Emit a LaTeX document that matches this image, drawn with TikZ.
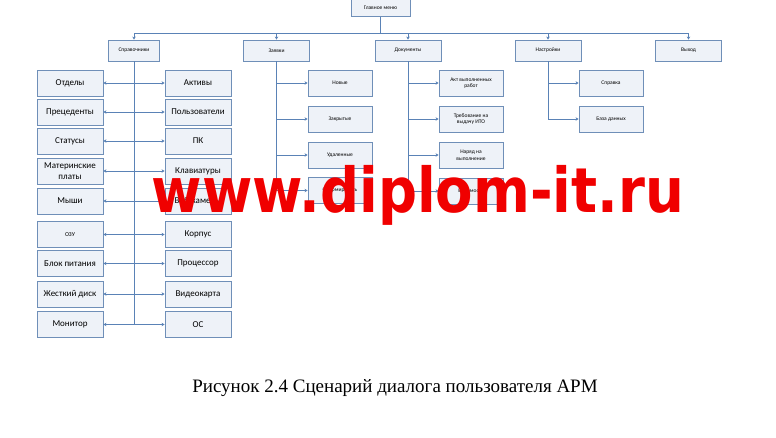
\documentclass[tikz,border=0pt]{standalone}
\usepackage{fontspec}
\usepackage{graphicx}
\setmainfont{Carlito}
\newfontfamily\capfont{Liberation Serif}
\newfontfamily\wmfont{DejaVu Sans}
\usetikzlibrary{arrows.meta}

\definecolor{boxline}{HTML}{6F8FB8}
\definecolor{boxfill}{HTML}{EEF2F8}
\definecolor{linkline}{HTML}{5A82B6}
\definecolor{wmred}{HTML}{F00000}

\tikzset{
  menubox/.style={draw=boxline, fill=boxfill, line width=0.9pt, minimum width=66pt,
    minimum height=21pt, inner sep=1pt, align=center, font=\fontsize{5.5}{6.5}\selectfont},
  itembox/.style={menubox, minimum height=26pt, font=\fontsize{9}{10.5}\selectfont},
  subbox/.style={menubox, minimum width=64pt, minimum height=26pt},
  link/.style={draw=linkline, line width=1pt},
  arr/.style={link, -{Stealth[length=3pt,width=3.5pt]}}
}

\begin{document}
\begin{tikzpicture}[x=1pt,y=-1pt]
\useasboundingbox (0,0) rectangle (776,437);

% Main menu and its items
\node[menubox, minimum width=59pt, minimum height=17pt] (main) at (380.5,8) {Главное меню};
\node[menubox, minimum width=51pt] (sprav) at (134,50.5) {Справочники};
\node[menubox] (zayav) at (276.5,50.5) {Заявки};
\node[menubox] (docs) at (408,50.5) {Документы};
\node[menubox] (nastr) at (548,50.5) {Настройки};
\node[menubox] (exit) at (688.5,50.5) {Выход};

\coordinate (busL) at (134,33);
\coordinate (busR) at (688.5,33);
\draw[link] (busL) -- (busR);
\draw[link] (main) -- (main |- busL);
\foreach \m in {sprav,zayav,docs,nastr,exit}
  \draw[arr] (\m |- busL) -- (\m.north);

% Reference books
\node[itembox] (otd) at (70,83) {Отделы};
\node[itembox] (prec) at (70,112) {Прецеденты};
\node[itembox] (stat) at (70,141) {Статусы};
\node[itembox] (mat) at (70,171) {Материнские\\платы};
\node[itembox] (mouse) at (70,201) {Мыши};
\node[itembox, font=\fontsize{6}{7}\selectfont] (ram) at (70,234.5) {ОЗУ};
\node[itembox] (psu) at (70,263.5) {Блок питания};
\node[itembox] (hdd) at (70,294) {Жесткий диск};
\node[itembox] (mon) at (70,324.5) {Монитор};

\node[itembox] (act) at (198,83) {Активы};
\node[itembox] (users) at (198,112) {Пользователи};
\node[itembox] (pc) at (198,141) {ПК};
\node[itembox] (kbd) at (198,171) {Клавиатуры};
\node[itembox] (cam) at (198,201) {Веб-камеры};
\node[itembox] (case) at (198,234.5) {Корпус};
\node[itembox] (cpu) at (198,263.5) {Процессор};
\node[itembox] (gpu) at (198,294) {Видеокарта};
\node[itembox] (os) at (198,324.5) {ОС};

\draw[link] (sprav.south) -- (sprav.south |- mon);
\foreach \b in {otd,prec,stat,mat,mouse,ram,psu,hdd,mon}
  \draw[arr] (sprav.south |- \b) -- (\b.east);
\foreach \b in {act,users,pc,kbd,cam,case,cpu,gpu,os}
  \draw[arr] (sprav.south |- \b) -- (\b.west);

% Requests
\node[subbox] (new) at (340,83) {Новые};
\node[subbox] (closed) at (340,119) {Закрытые};
\node[subbox] (deleted) at (340,155) {Удаленные};
\node[subbox] (form) at (340,190.5) {Сформировать};

\draw[link] (zayav.south) -- (zayav.south |- form);
\foreach \b in {new,closed,deleted,form}
  \draw[arr] (zayav.south |- \b) -- (\b.west);

% Documents
\node[subbox] (actw) at (471,83) {Акт выполненных\\работ};
\node[subbox] (treb) at (471,119) {Требование на\\выдачу ИТО};
\node[subbox] (naryad) at (471,155) {Наряд на\\выполнение};
\node[subbox] (ved) at (471,191) {Ведомость};

\draw[link] (docs.south) -- (docs.south |- ved);
\foreach \b in {actw,treb,naryad,ved}
  \draw[arr] (docs.south |- \b) -- (\b.west);

% Settings
\node[subbox] (help) at (611,83) {Справка};
\node[subbox] (db) at (611,119) {База данных};

\draw[link] (nastr.south) -- (nastr.south |- db);
\foreach \b in {help,db}
  \draw[arr] (nastr.south |- \b) -- (\b.west);

% Watermark
\node[text=wmred, inner sep=0pt, anchor=base, font=\wmfont\bfseries\fontsize{62}{62}\selectfont]
  (wm) at (418,212) {\scalebox{0.88}[1]{www.diplom-it.ru}};

% Caption
\node[font=\capfont\fontsize{19}{21}\selectfont] (cap) at (395,388) {Рисунок 2.4 Сценарий диалога пользователя АРМ};

\end{tikzpicture}
\end{document}
